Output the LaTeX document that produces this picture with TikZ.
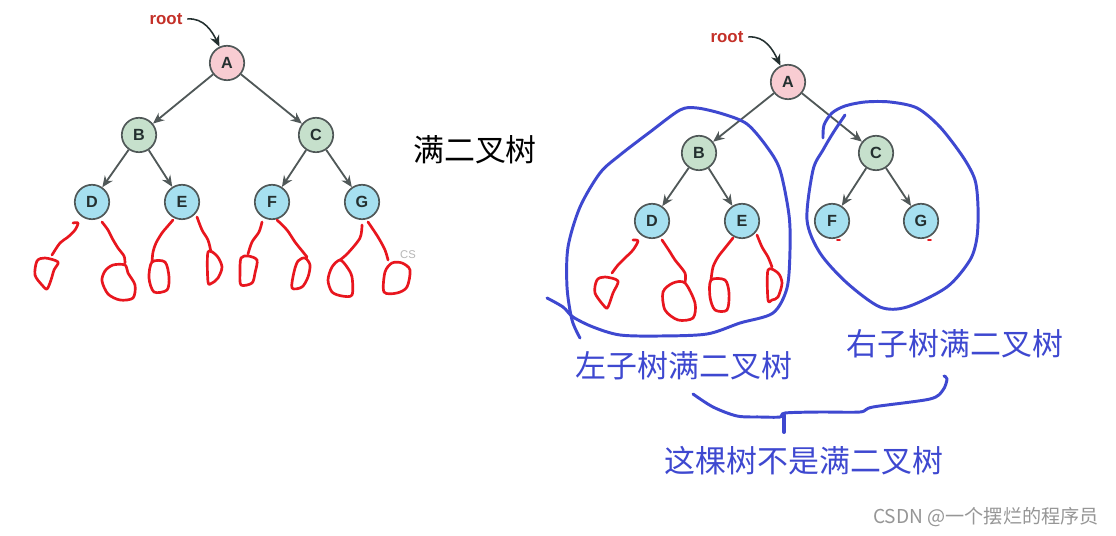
\documentclass[tikz,border=0pt]{standalone}
\usepackage{fontspec}
\setmainfont{Liberation Sans}
\newfontfamily\cjk{Noto Sans CJK SC}
\usetikzlibrary{arrows.meta}
\definecolor{NodeLine}{RGB}{80,88,88}
\definecolor{NodeText}{RGB}{36,48,48}
\definecolor{RootPink}{RGB}{248,204,210}
\definecolor{MidGreen}{RGB}{198,224,204}
\definecolor{LeafBlue}{RGB}{166,224,240}
\definecolor{RootRed}{RGB}{196,48,40}
\definecolor{PenRed}{RGB}{232,22,30}
\definecolor{PenBlue}{RGB}{62,72,208}
\definecolor{WaterGray}{RGB}{150,150,150}
\tikzset{
  treenode/.style={circle,draw=NodeLine,line width=1.2pt,minimum size=0.86cm,
    inner sep=0pt,font=\fontsize{11.5}{13}\selectfont\bfseries,text=NodeText},
  pinknode/.style={treenode,fill=RootPink},
  greennode/.style={treenode,fill=MidGreen},
  bluenode/.style={treenode,fill=LeafBlue},
  rootlabel/.style={font=\fontsize{12}{14}\selectfont\bfseries,text=RootRed},
  edge/.style={-{Stealth[length=2.8mm,width=2.4mm]},line width=1.3pt,draw=NodeLine},
  rootflow/.style={-{Stealth[length=2.8mm,width=2.4mm]},line width=1.1pt,draw=NodeText},
  redpen/.style={draw=PenRed,line width=1.9pt,line cap=round,line join=round},
  bluepen/.style={draw=PenBlue,line width=2.1pt,line cap=round,line join=round},
  bluetext/.style={font=\cjk\fontsize{22}{24}\selectfont,text=PenBlue},
  blacktext/.style={font=\cjk\fontsize{22}{24}\selectfont,text=black},
  scrap/.style={font=\footnotesize,text=WaterGray!70}
}

\begin{document}
\begin{tikzpicture}[x=0.025cm,y=-0.025cm]
  \useasboundingbox[fill=white] (0,0) rectangle (1116,536);

  % left tree: full binary tree
  \node[rootlabel] (lroot) at (166,19) {root};
  \node[pinknode] (lA) at (227,63) {A};
  \node[greennode] (lB) at (139,135) {B};
  \node[greennode] (lC) at (316,135) {C};
  \node[bluenode] (lD) at (92,202) {D};
  \node[bluenode] (lE) at (182,202) {E};
  \node[bluenode] (lF) at (272,202) {F};
  \node[bluenode] (lG) at (362,202) {G};
  \draw[rootflow] (lroot.east) to[out=5,in=115] (lA);
  \draw[edge] (lA) -- (lB);
  \draw[edge] (lA) -- (lC);
  \draw[edge] (lB) -- (lD);
  \draw[edge] (lB) -- (lE);
  \draw[edge] (lC) -- (lF);
  \draw[edge] (lC) -- (lG);
  \node[scrap] (lcs) at (408,255) {CS};

  % red scribbles under the leaves
  \draw[redpen] plot[smooth] coordinates {(73,223) (78,223) (75,230) (68,237) (60,243) (52,255)};
  \draw[redpen] plot[smooth cycle] coordinates {(58,262) (45,258) (37,261) (35,275) (42,285) (47,289) (51,280) (54,270)};
  \draw[redpen] plot[smooth] coordinates {(102,222) (108,230) (112,238) (118,248) (124,256) (125,263)};
  \draw[redpen] plot[smooth cycle] coordinates {(125,265) (113,265) (105,271) (102,281) (108,294) (120,300) (133,298) (135,285) (128,273)};
  \draw[redpen] plot[smooth] coordinates {(173,220) (167,227) (162,233) (156,243) (153,252) (152,262)};
  \draw[redpen] plot[smooth cycle] coordinates {(152,262) (165,262) (169,277) (167,290) (154,292) (149,278)};
  \draw[redpen] plot[smooth] coordinates {(197,217) (202,230) (208,240) (211,252)};
  \draw[redpen] plot[smooth cycle] coordinates {(208,252) (217,256) (222,267) (218,278) (212,283) (208,282)};
  \draw[redpen] plot[smooth] coordinates {(262,222) (259,232) (252,242) (248,254)};
  \draw[redpen] plot[smooth cycle] coordinates {(248,256) (241,258) (240,272) (241,285) (252,283) (255,273) (257,260)};
  \draw[redpen] plot[smooth] coordinates {(277,220) (287,230) (295,242) (303,252) (307,257)};
  \draw[redpen] plot[smooth cycle] coordinates {(305,258) (298,261) (294,272) (292,288) (302,287) (308,277) (310,265)};
  \draw[redpen] plot[smooth] coordinates {(362,225) (360,238) (348,253) (340,260)};
  \draw[redpen] plot[smooth cycle] coordinates {(340,260) (332,267) (328,280) (332,292) (342,296) (352,295) (352,277) (347,267)};
  \draw[redpen] plot[smooth] coordinates {(368,222) (378,237) (385,250) (388,260)};
  \draw[redpen] plot[smooth cycle] coordinates {(392,263) (385,272) (384,292) (397,293) (407,287) (410,270) (402,263)};

  \node[blacktext] (fulltitle) at (475,150) {满二叉树};

  % right tree: same tree, subtrees circled
  \node[rootlabel] (rroot) at (727,37) {root};
  \node[pinknode] (rA) at (788,82) {A};
  \node[greennode] (rB) at (699,153) {B};
  \node[greennode] (rC) at (876,153) {C};
  \node[bluenode] (rD) at (652,221) {D};
  \node[bluenode] (rE) at (742,221) {E};
  \node[bluenode] (rF) at (832,221) {F};
  \node[bluenode] (rG) at (921,221) {G};
  \draw[rootflow] (rroot.east) to[out=5,in=115] (rA);
  \draw[edge] (rA) -- (rB);
  \draw[edge] (rA) -- (rC);
  \draw[edge] (rB) -- (rD);
  \draw[edge] (rB) -- (rE);
  \draw[edge] (rC) -- (rF);
  \draw[edge] (rC) -- (rG);

  \draw[redpen] plot[smooth] coordinates {(633,240) (638,241) (633,250) (625,258) (618,265) (612,273)};
  \draw[redpen] plot[smooth cycle] coordinates {(618,281) (605,277) (597,280) (595,293) (605,307) (608,307) (613,293)};
  \draw[redpen] plot[smooth] coordinates {(662,240) (670,252) (675,260) (685,273) (685,282)};
  \draw[redpen] plot[smooth cycle] coordinates {(685,283) (673,283) (663,292) (665,310) (678,320) (693,318) (695,303)};
  \draw[redpen] plot[smooth] coordinates {(733,238) (725,248) (718,257) (713,267) (711,280)};
  \draw[redpen] plot[smooth cycle] coordinates {(711,280) (725,280) (729,293) (727,310) (715,310) (710,297)};
  \draw[redpen] plot[smooth] coordinates {(757,235) (762,247) (768,257) (772,267)};
  \draw[redpen] plot[smooth cycle] coordinates {(768,270) (778,273) (782,283) (778,297) (772,300) (768,300)};
  \draw[redpen,line width=1.3pt] (rF.south) ++(5,1) -- ++(3,0);
  \draw[redpen,line width=1.3pt] (rG.south) ++(7,1) -- ++(3,0);

  % blue pen loops and brace
  \draw[bluepen] plot[smooth] coordinates {(547,298) (563,307) (573,317) (593,327) (620,335) (660,336)
    (707,334) (740,323) (773,313) (787,288) (790,250) (789,215) (780,170) (767,147) (747,124)
    (723,114) (697,108) (680,110) (650,132) (620,155) (600,173) (580,207) (568,247) (567,287)
    (572,320) (580,338)};
  \draw[bluepen] plot[smooth] coordinates {(823,138) (824,125) (832,113) (845,106) (865,102) (890,102)
    (917,108) (940,127) (963,157) (975,180) (978,207) (977,237) (970,260) (947,287) (907,307)
    (880,307) (847,283) (820,253) (807,220) (813,170) (823,150) (833,133) (845,115)};
  \draw[bluepen] plot[smooth] coordinates {(693,394) (713,407) (737,416) (760,417) (780,417) (785,413)
    (820,412) (860,412) (873,407) (930,399) (943,390) (947,379) (944,376)};
  \draw[bluepen,line width=2.8pt] (784,415) -- (784,432);

  \node[bluetext] (lefttext) at (684,366) {左子树满二叉树};
  \node[bluetext] (righttext) at (955,344) {右子树满二叉树};
  \node[bluetext] (nottext) at (804,461) {这棵树不是满二叉树};

  \node[font=\cjk\fontsize{13.6}{15}\selectfont,text=WaterGray] (mark) at (986,517) {CSDN @一个摆烂的程序员};
\end{tikzpicture}
\end{document}
